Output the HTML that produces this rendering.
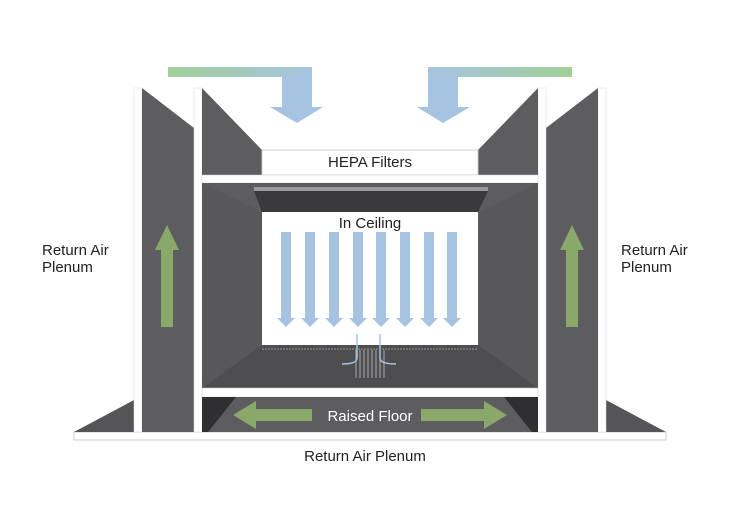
<!DOCTYPE html>
<html><head><meta charset="utf-8"><style>
html,body{margin:0;padding:0;background:#fff;width:740px;height:529px;overflow:hidden}
svg text{font-family:"Liberation Sans",sans-serif}
</style></head><body>
<svg width="740" height="529" viewBox="0 0 740 529" xmlns="http://www.w3.org/2000/svg">
<defs>
<linearGradient id="gl" x1="0" x2="1" y1="0" y2="0"><stop offset="0" stop-color="#a2d098"/><stop offset="1" stop-color="#a6c4e2"/></linearGradient>
<linearGradient id="gr" x1="1" x2="0" y1="0" y2="0"><stop offset="0" stop-color="#a2d098"/><stop offset="1" stop-color="#a6c4e2"/></linearGradient>
</defs>
<!-- top arrows -->
<rect x="168" y="67" width="144" height="10" fill="url(#gl)"/>
<path d="M282 77 H312 V107 H323 L297 123 L270 107 H282 Z" fill="#a6c4e2"/>
<rect x="428" y="67" width="144" height="10" fill="url(#gr)"/>
<path d="M428 77 H458 V107 H470 L443 123 L417 107 H428 Z" fill="#a6c4e2"/>
<!-- base -->
<rect x="74" y="432" width="592" height="8" fill="#fff" stroke="#ccc" stroke-width="1"/>
<path d="M74 432 L134 400 L134 432 Z" fill="#555457"/>
<path d="M666 432 L606 400 L606 432 Z" fill="#555457"/>
<!-- outer plenums -->
<rect x="134" y="88" width="8" height="344" fill="#fff" stroke="#ddd" stroke-width="0.5"/>
<path d="M142 88 L194 128 L194 432 L142 432 Z" fill="#5d5c5f"/>
<rect x="598" y="88" width="8" height="344" fill="#fff" stroke="#ddd" stroke-width="0.5"/>
<path d="M598 88 L546 128 L546 432 L598 432 Z" fill="#5d5c5f"/>
<!-- inner walls -->
<rect x="194" y="88" width="8" height="344" fill="#fff" stroke="#ddd" stroke-width="0.5"/>
<rect x="538" y="88" width="8" height="344" fill="#fff" stroke="#ddd" stroke-width="0.5"/>
<path d="M202 88 L262 150 L262 175 L202 175 Z" fill="#5d5c5f"/>
<path d="M538 88 L478 150 L478 175 L538 175 Z" fill="#5d5c5f"/>
<rect x="262" y="150" width="216" height="25" fill="#fff" stroke="#ccc" stroke-width="1"/>
<text x="370" y="167" font-size="15" text-anchor="middle" fill="#222">HEPA Filters</text>
<rect x="202" y="175" width="336" height="8" fill="#fff" stroke="#ccc" stroke-width="0.5"/>
<!-- room -->
<rect x="202" y="183" width="336" height="205" fill="#5d5c5f"/>
<path d="M202 183 L262 212 L262 345 L202 388 Z" fill="#58575a"/>
<path d="M538 183 L478 212 L478 345 L538 388 Z" fill="#58575a"/>
<path d="M262 345 H478 L538 388 H202 Z" fill="#4e4d50"/>
<rect x="254" y="187" width="234" height="4" fill="#9a9a9c"/>
<path d="M254 191 H488 L478 212 H262 Z" fill="#3a393c"/>
<rect x="262" y="212" width="216" height="133" fill="#fff"/>
<text x="370" y="228" font-size="15" text-anchor="middle" fill="#222">In Ceiling</text>
<g fill="#a6c4e2">
<path d="M281 232 h10 v86 h4 l-9 9 l-9 -9 h4 z"/>
<path d="M305 232 h10 v86 h4 l-9 9 l-9 -9 h4 z"/>
<path d="M329 232 h10 v86 h4 l-9 9 l-9 -9 h4 z"/>
<path d="M353 232 h10 v86 h4 l-9 9 l-9 -9 h4 z"/>
<path d="M376 232 h10 v86 h4 l-9 9 l-9 -9 h4 z"/>
<path d="M400 232 h10 v86 h4 l-9 9 l-9 -9 h4 z"/>
<path d="M424 232 h10 v86 h4 l-9 9 l-9 -9 h4 z"/>
<path d="M447 232 h10 v86 h4 l-9 9 l-9 -9 h4 z"/>
</g>
<g stroke="#ddd" stroke-width="0.8" opacity="0.8">
<line x1="356" y1="350" x2="356" y2="378"/><line x1="360" y1="350" x2="360" y2="378"/><line x1="364" y1="350" x2="364" y2="378"/><line x1="368" y1="350" x2="368" y2="378"/><line x1="372" y1="350" x2="372" y2="378"/><line x1="376" y1="350" x2="376" y2="378"/><line x1="380" y1="350" x2="380" y2="378"/><line x1="384" y1="350" x2="384" y2="378"/>
</g>
<path d="M357 334 V358 Q357 364 342 364" stroke="#a6c4e2" stroke-width="1.5" fill="none"/>
<path d="M380 334 V358 Q380 364 396 364" stroke="#a6c4e2" stroke-width="1.5" fill="none"/>
<line x1="262" y1="349" x2="478" y2="349" stroke="#999" stroke-width="1" stroke-dasharray="2 1"/>
<rect x="202" y="388" width="336" height="9" fill="#fff" stroke="#ccc" stroke-width="0.5"/>
<!-- raised floor -->
<rect x="202" y="397" width="336" height="35" fill="#5d5c5f"/>
<path d="M202 397 H236 L208 432 H202 Z" fill="#2f2e31"/>
<path d="M538 397 H504 L532 432 H538 Z" fill="#2f2e31"/>
<path d="M233 415 L256 401 V409 H312 V421 H256 V429 Z" fill="#8aa86a"/>
<path d="M507 415 L484 401 V409 H421 V421 H484 V429 Z" fill="#8aa86a"/>
<text x="370" y="421" font-size="15" text-anchor="middle" fill="#fff">Raised Floor</text>
<!-- plenum arrows -->
<path d="M167 225 L179 250 H173 V327 H161 V250 H155 Z" fill="#8aa86a"/>
<path d="M572 225 L584 250 H578 V327 H566 V250 H560 Z" fill="#8aa86a"/>
<!-- labels -->
<text x="42" y="255" font-size="15" fill="#222">Return Air</text>
<text x="42" y="272" font-size="15" fill="#222">Plenum</text>
<text x="621" y="255" font-size="15" fill="#222">Return Air</text>
<text x="621" y="272" font-size="15" fill="#222">Plenum</text>
<text x="365" y="461" font-size="15" text-anchor="middle" fill="#222">Return Air Plenum</text>
</svg>
</body></html>
